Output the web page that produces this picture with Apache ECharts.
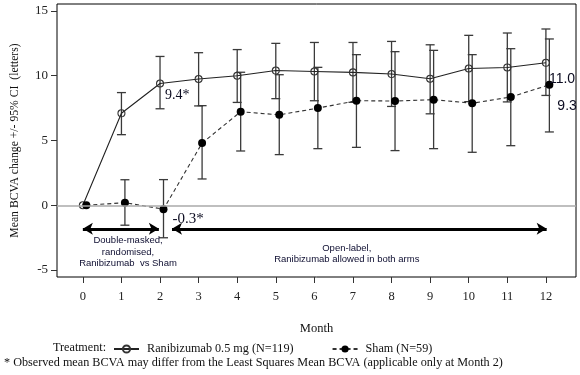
<!DOCTYPE html>
<html><head><meta charset="utf-8">
<script src="https://cdn.jsdelivr.net/npm/echarts@6/dist/echarts.min.js"></script>
<style>html,body{margin:0;padding:0;background:#fff}#c{width:580px;height:375px}</style>
</head><body><div id="c"></div>
<script>
// ---- data ----
const months = [0, 1, 2, 3, 4, 5, 6, 7, 8, 9, 10, 11, 12];
const xTickLabels = [0, 1, 2, 3, 4, 5, 6, 7, 8, 9, 10, 11, 12];
const yTickLabels = [-5, 0, 5, 10, 15];
const seriesNames = ['Ranibizumab 0.5 mg (N=119)', 'Sham (N=59)'];

const raniMean = [0, 7.1, 9.4, 9.75, 10.0, 10.4, 10.33, 10.26, 10.13, 9.77, 10.56, 10.64, 11.0];
const raniLow  = [null, 5.45, 7.45, 7.67, 7.94, 8.23, 8.07, 7.95, 7.63, 7.06, 8.0, 7.98, 8.48];
const raniHigh = [null, 8.7, 11.49, 11.78, 12.02, 12.5, 12.57, 12.57, 12.65, 12.39, 13.12, 13.3, 13.61];

const shamMean = [0, 0.2, -0.3, 4.8, 7.22, 6.98, 7.5, 8.07, 8.05, 8.15, 7.88, 8.36, 9.3];
const shamLow  = [null, -1.54, -2.51, 2.03, 4.19, 3.91, 4.37, 4.47, 4.22, 4.37, 4.09, 4.6, 5.66];
const shamHigh = [null, 1.97, 1.98, 7.69, 10.27, 10.08, 10.65, 11.63, 11.86, 11.96, 11.63, 12.09, 12.84];

const raniLabelled = [2, 12];   // months with a value label
const shamLabelled = [2, 12];
const starredMonth = 2;         // observed mean may differ from LS mean

const phaseLabels = ['Double-masked,\nrandomised,\nRanibizumab  vs Sham', 'Open-label,\nRanibizumab allowed in both arms'];
const footnote = '* Observed mean BCVA may differ from the Least Squares Mean BCVA (applicable only at Month 2)';

// ---- layout constants (not data) ----
const shamDodge = 0.09;
const phaseArrowY = -1.82;
const phaseArrowX = [[0, 1.97], [2.31, 12.02]];
const phaseTextAt = [[1.17, -3.6], [6.84, -3.75]];

const serif = 'Liberation Serif';
const sans = 'Liberation Sans';

function errRender(params, api) {
  const x = api.value(0), lo = api.value(1), hi = api.value(2);
  const p1 = api.coord([x, lo]), p2 = api.coord([x, hi]);
  const w = 4.5;
  const st = { stroke: '#3a3a3a', lineWidth: 1.3 };
  return { type: 'group', children: [
    { type: 'line', shape: { x1: p1[0], y1: p1[1], x2: p2[0], y2: p2[1] }, style: st },
    { type: 'line', shape: { x1: p1[0] - w, y1: p1[1], x2: p1[0] + w, y2: p1[1] }, style: st },
    { type: 'line', shape: { x1: p2[0] - w, y1: p2[1], x2: p2[0] + w, y2: p2[1] }, style: st }
  ]};
}

function errData(mean, lo, hi, dx) {
  const out = [];
  months.forEach((m, i) => { if (lo[i] != null) out.push([m + dx, lo[i], hi[i]]); });
  return out;
}

const raniData = months.map((m, i) => {
  const d = { value: [m, raniMean[i]] };
  if (raniLabelled.includes(m)) {
    const star = m === starredMonth;
    d.label = {
      show: true, position: 'right', distance: star ? 1 : -1,
      offset: star ? [0, 12] : [0, 16],
      formatter: p => p.value[1].toFixed(1) + (star ? '*' : ''),
      fontFamily: star ? serif : sans, fontSize: 14, color: '#0b0b20'
    };
  }
  return d;
});
const shamData = months.map((m, i) => {
  const d = { value: [m + shamDodge, shamMean[i]] };
  if (shamLabelled.includes(m)) {
    const star = m === starredMonth;
    d.label = {
      show: true, position: 'right', distance: star ? 5 : 4,
      offset: star ? [0, 10] : [0, 21],
      formatter: p => p.value[1].toFixed(1) + (star ? '*' : ''),
      fontFamily: star ? serif : sans, fontSize: star ? 15 : 14, color: '#0b0b20'
    };
  }
  return d;
});

const chart = echarts.init(document.getElementById('c'), null, { renderer: 'canvas' });
chart.setOption({
  animation: false,
  backgroundColor: '#fff',
  grid: { left: 57, top: 4, width: 519, height: 273, show: true, borderColor: '#000', borderWidth: 1, backgroundColor: 'transparent' },
  xAxis: {
    type: 'value', min: -0.67, max: 12.78,
    name: 'Month', nameLocation: 'middle', nameGap: 45,
    nameTextStyle: { fontFamily: serif, fontSize: 12.5, color: '#111' },
    axisLine: { show: false, onZero: false },
    splitLine: { show: false },
    axisTick: { show: true, customValues: xTickLabels, length: 6, lineStyle: { color: '#333' } },
    axisLabel: { customValues: xTickLabels, fontFamily: serif, fontSize: 12.5, color: '#222', margin: 13 }
  },
  yAxis: {
    type: 'value', min: -5.54, max: 15.54,
    name: 'Mean BCVA change +/- 95% CI  (letters)', nameLocation: 'middle', nameGap: 36,
    nameTextStyle: { fontFamily: serif, fontSize: 11.7, color: '#111' },
    axisLine: { show: false, onZero: false },
    splitLine: { show: false },
    axisTick: { show: true, customValues: yTickLabels, length: 6, lineStyle: { color: '#333' } },
    axisLabel: { customValues: yTickLabels, fontFamily: serif, fontSize: 13, color: '#222', margin: 9 }
  },
  legend: {
    data: seriesNames, left: 108, top: 338, itemWidth: 25, itemHeight: 9, itemGap: 38,
    textStyle: { fontFamily: serif, fontSize: 12.2, color: '#111', padding: [0, 0, 0, 3] }
  },
  graphic: [
    { type: 'text', left: 53, top: 342, style: { text: 'Treatment:', font: '12.2px "Liberation Serif"', fill: '#111' } },
    { type: 'text', left: 4, top: 357, style: { text: footnote, font: '12.2px "Liberation Serif"', fill: '#111' } }
  ],
  series: [
    {
      name: 'annot', type: 'line', data: [], silent: true, z: 1,
      markLine: {
        silent: true, animation: false, label: { show: false }, symbol: 'none',
        data: [
          { yAxis: 0, lineStyle: { color: '#aaa', width: 1.5, type: 'solid' }, symbol: 'none' },
          ...phaseArrowX.map(([a, b]) => [
            { coord: [a, phaseArrowY], symbol: 'arrow', symbolSize: [9, 10], lineStyle: { color: '#000', width: 3, type: 'solid' } },
            { coord: [b, phaseArrowY], symbol: 'arrow', symbolSize: [9, 10] }
          ])
        ]
      },
      markPoint: {
        silent: true, animation: false, symbol: 'circle', symbolSize: 0,
        data: phaseLabels.map((t, i) => ({
          coord: phaseTextAt[i],
          label: { show: true, position: 'inside', formatter: t, fontFamily: sans, fontSize: 9.5, lineHeight: 11.5, color: '#0d0d30', align: 'center' }
        }))
      }
    },
    { name: 'raniErr', type: 'custom', renderItem: errRender, data: errData(raniMean, raniLow, raniHigh, 0), encode: { x: 0, y: [1, 2] }, z: 2, silent: true },
    { name: 'shamErr', type: 'custom', renderItem: errRender, data: errData(shamMean, shamLow, shamHigh, shamDodge), encode: { x: 0, y: [1, 2] }, z: 2, silent: true },
    {
      name: seriesNames[0], type: 'line', data: raniData, z: 3,
      symbol: 'circle', symbolSize: 7,
      itemStyle: { color: 'rgba(255,255,255,0)', borderColor: '#333', borderWidth: 1.1 },
      lineStyle: { color: '#222', width: 1.1 }
    },
    {
      name: seriesNames[1], type: 'line', data: shamData, z: 3,
      symbol: 'circle', symbolSize: 8,
      itemStyle: { color: '#000' },
      lineStyle: { color: '#333', width: 1.1, type: [4, 3] }
    }
  ]
});
</script>
</body></html>
